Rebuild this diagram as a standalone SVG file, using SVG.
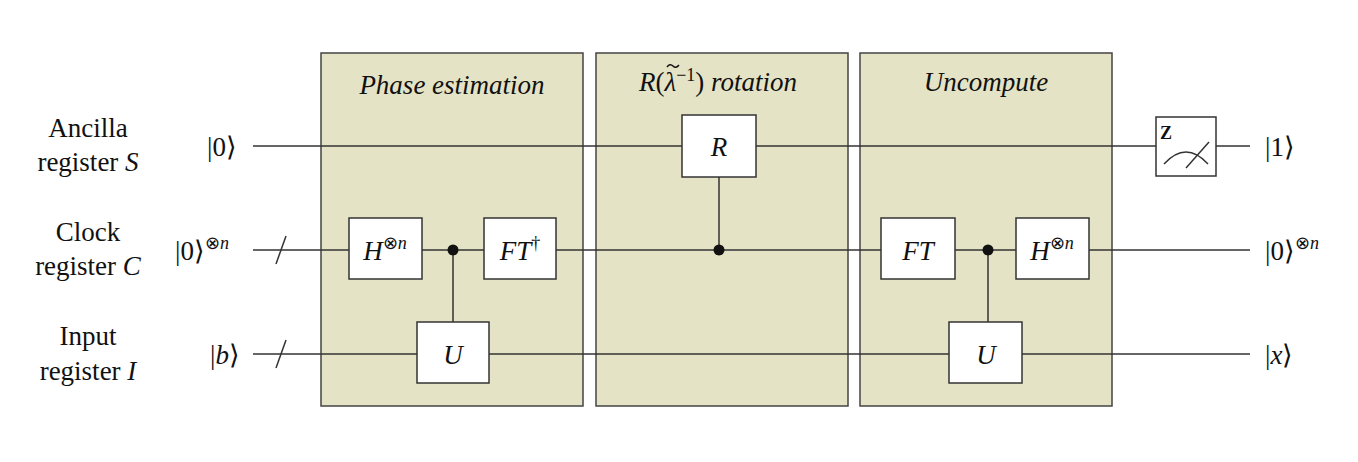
<svg xmlns="http://www.w3.org/2000/svg" width="1358" height="462" viewBox="0 0 1358 462">
<style>
.panel{fill:#e4e3c6;stroke:#444;stroke-width:1.5}
.gate{fill:#fff;stroke:#333;stroke-width:1.5}
.w{stroke:#333;stroke-width:1.5;fill:none}
text{font-family:"Liberation Serif",serif;fill:#111}
.lbl{font-size:27px;text-anchor:middle}
.m{font-size:27px;font-style:italic;text-anchor:middle}
.k{font-size:27px}
.t{font-size:27px;font-style:italic;text-anchor:middle}
</style>
<rect width="1358" height="462" fill="#fff"/>
<g id="panels">
<rect class="panel" x="321" y="53" width="262" height="353"/>
<rect class="panel" x="596" y="53" width="252" height="353"/>
<rect class="panel" x="860" y="53" width="252" height="353"/>
<text class="t" x="452" y="94">Phase estimation</text>
<text class="t" x="718" y="91">R<tspan font-style="normal">(</tspan>λ<tspan font-style="normal" font-size="18" dy="-10">−1</tspan><tspan font-style="normal" dy="10">)</tspan> rotation</text>
<path d="M667 67 q3 -4 6 -1 t6 -1" fill="none" stroke="#111" stroke-width="1.5"/>
<text class="t" x="986" y="91">Uncompute</text>
</g>
<g id="labels">
<text class="lbl" x="88" y="137">Ancilla</text>
<text class="lbl" x="88" y="171">register <tspan font-style="italic">S</tspan></text>
<text class="lbl" x="88" y="241">Clock</text>
<text class="lbl" x="88" y="275">register <tspan font-style="italic">C</tspan></text>
<text class="lbl" x="88" y="345">Input</text>
<text class="lbl" x="88" y="380">register <tspan font-style="italic">I</tspan></text>
<text class="k" x="207" y="156">|0⟩</text>
<text class="k" x="175" y="260">|0⟩<tspan font-size="18" dy="-11">⊗<tspan font-style="italic">n</tspan></tspan></text>
<text class="k" x="210" y="364">|<tspan font-style="italic">b</tspan>⟩</text>
<text class="k" x="1265" y="156">|1⟩</text>
<text class="k" x="1265" y="260">|0⟩<tspan font-size="18" dy="-11">⊗<tspan font-style="italic">n</tspan></tspan></text>
<text class="k" x="1265" y="364">|<tspan font-style="italic">x</tspan>⟩</text>
</g>
<g id="wires">
<line class="w" x1="253" y1="146" x2="1250" y2="146"/>
<line class="w" x1="253" y1="250" x2="1250" y2="250"/>
<line class="w" x1="253" y1="354" x2="1250" y2="354"/>
<line class="w" x1="276" y1="264" x2="286" y2="236"/>
<line class="w" x1="276" y1="368" x2="286" y2="340"/>
<line class="w" x1="453" y1="250" x2="453" y2="322"/>
<line class="w" x1="719" y1="177" x2="719" y2="250"/>
<line class="w" x1="988" y1="250" x2="988" y2="322"/>
<circle cx="453" cy="250" r="5.5" fill="#111"/>
<circle cx="719" cy="250" r="5.5" fill="#111"/>
<circle cx="988" cy="250" r="5.5" fill="#111"/>
</g>
<g id="H1"><rect class="gate" x="349" y="218" width="73" height="61"/><text class="m" x="385" y="260">H<tspan font-size="18" dy="-11" font-style="normal">⊗</tspan><tspan font-size="18" dy="0">n</tspan></text></g>
<g id="FTd"><rect class="gate" x="484" y="218" width="72" height="61"/><text class="m" x="520" y="260">FT<tspan font-size="18" dy="-11" font-style="normal">†</tspan></text></g>
<g id="U1"><rect class="gate" x="417" y="322" width="72" height="61"/><text class="m" x="453" y="364">U</text></g>
<g id="R"><rect class="gate" x="682" y="115" width="74" height="62"/><text class="m" x="719" y="156">R</text></g>
<g id="FT"><rect class="gate" x="881" y="218" width="74" height="61"/><text class="m" x="918" y="260">FT</text></g>
<g id="H2"><rect class="gate" x="1016" y="218" width="73" height="61"/><text class="m" x="1052" y="260">H<tspan font-size="18" dy="-11" font-style="normal">⊗</tspan><tspan font-size="18" dy="0">n</tspan></text></g>
<g id="U2"><rect class="gate" x="949" y="322" width="73" height="61"/><text class="m" x="986" y="364">U</text></g>
<g id="meas"><rect class="gate" x="1156" y="117" width="60" height="59"/>
<text x="1160" y="139" font-size="18" font-weight="bold">Z</text>
<path class="w" d="M1164 164 Q1186 140 1208 164"/>
<line class="w" x1="1186" y1="168" x2="1209" y2="142"/></g>
</svg>
